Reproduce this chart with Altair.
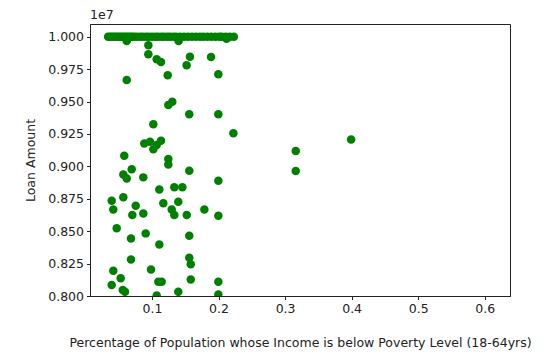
import altair as alt
import pandas as pd

# Poverty share (x) and loan amount (y)
top_x = [0.034, 0.037, 0.040, 0.043, 0.046, 0.049, 0.052, 0.055, 0.058, 0.061,
         0.064, 0.067, 0.070, 0.073, 0.077, 0.082, 0.086, 0.091, 0.095, 0.100,
         0.105, 0.109, 0.114, 0.118, 0.123, 0.127, 0.132, 0.136, 0.142, 0.148,
         0.154, 0.160, 0.166, 0.172, 0.177, 0.183, 0.189, 0.195, 0.201, 0.205,
         0.211, 0.217, 0.223]
top_y = [10000000] * len(top_x)

other_x = [0.062, 0.140, 0.212,
           0.0945, 0.0945, 0.107, 0.1135, 0.157, 0.1887, 0.152, 0.062, 0.1236, 0.1997,
           0.1245, 0.1305, 0.156, 0.1997, 0.2223, 0.102, 0.0884, 0.097, 0.102, 0.107,
           0.1135, 0.0583, 0.1245, 0.1245, 0.156, 0.0569, 0.062, 0.0695, 0.0869,
           0.111, 0.1335, 0.1456, 0.1997, 0.0394, 0.0418, 0.0569, 0.0755, 0.0704,
           0.0869, 0.117, 0.1395, 0.1296, 0.1335, 0.1522, 0.1787, 0.1997, 0.0469,
           0.0684, 0.0905, 0.111, 0.156, 0.0684, 0.156, 0.1582, 0.0418, 0.0985,
           0.0529, 0.1582, 0.0394, 0.1095, 0.1145, 0.1997, 0.056, 0.0594, 0.1395,
           0.107, 0.1997, 0.3992, 0.316, 0.316]
other_y = [9967000, 9967000, 9985000,
           9933600, 9864200, 9826000, 9805000, 9846000, 9843000, 9779000, 9666000, 9702000, 9710000,
           9473000, 9498000, 9401000, 9401000, 9255000, 9324000, 9177000, 9190000, 9131000, 9164000,
           9198000, 9082000, 9056000, 9015000, 8966000, 8938000, 8907000, 8977000, 8915000,
           8822000, 8838000, 8838000, 8889000, 8735000, 8668000, 8761000, 8696000, 8624000,
           8637000, 8715000, 8727000, 8668000, 8624000, 8624000, 8668000, 8619000, 8522000,
           8444000, 8483000, 8398000, 8465000, 8282000, 8295000, 8244000, 8194000, 8205000,
           8136000, 8128000, 8084000, 8110000, 8110000, 8110000, 8046000, 8032000, 8032000,
           8003000, 8012000, 9208000, 9118000, 8964000]

x_ticks = [0.1, 0.2, 0.3, 0.4, 0.5, 0.6]
y_ticks = [8000000, 8250000, 8500000, 8750000, 9000000, 9250000, 9500000, 9750000, 10000000]

df = pd.DataFrame({"pov": top_x + other_x, "loan": top_y + other_y})

chart = alt.Chart(df).mark_circle(color="#008000", opacity=1, size=72, clip=True).encode(
    x=alt.X("pov:Q",
            scale=alt.Scale(domain=[0.0068, 0.638], nice=False, zero=False),
            axis=alt.Axis(values=x_ticks, format=".1f", grid=False,
                          title="Percentage of Population whose Income is below Poverty Level (18-64yrs)",
                          titlePadding=21)),
    y=alt.Y("loan:Q",
            scale=alt.Scale(domain=[8000000, 10098000], nice=False, zero=False),
            axis=alt.Axis(values=y_ticks, grid=False,
                          labelExpr="format(datum.value / 10000000, '.3f')",
                          title="Loan Amount", titlePadding=10)),
).properties(
    width=420, height=272,
    autosize=alt.AutoSizeParams(type="none"),
    padding={"left": 82, "top": 16, "right": 32, "bottom": 62},
    title=alt.TitleParams("1e7", anchor="start", fontSize=12.5, fontWeight="normal",
                          font="DejaVu Sans", color="#222222", offset=3, frame="group"),
).configure_axis(
    labelFont="DejaVu Sans", titleFont="DejaVu Sans",
    labelFontSize=12.5, titleFontSize=12.5, labelColor="#222222", titleColor="#222222",
    titleFontWeight="normal", domainColor="#222222", tickColor="#222222",
    tickSize=3.5, labelPadding=3, domainWidth=1,
).configure_view(stroke="#222222", strokeWidth=1)

chart.save("out.html", embed_options={"renderer": "svg", "actions": False})
